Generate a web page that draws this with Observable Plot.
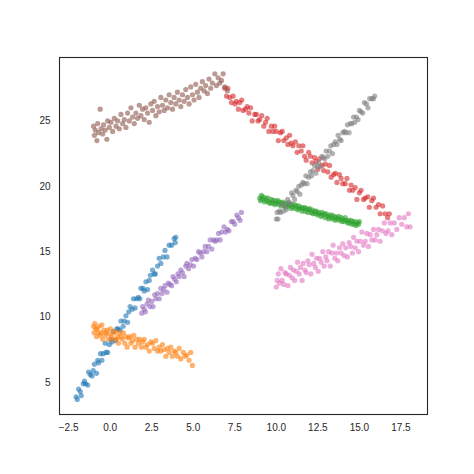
<!DOCTYPE html>
<html>
<head>
<meta charset="utf-8">
<script src="https://cdn.jsdelivr.net/npm/d3@7"></script>
<script src="https://cdn.jsdelivr.net/npm/@observablehq/plot@0.6"></script>
<style>
  html, body { margin: 0; padding: 0; background: #fff; }
  svg { font-family: "Liberation Sans", Arial, sans-serif; }
</style>
</head>
<body>
<div id="chart"></div>
<script>
const seriesNames = ["a", "b", "c", "d", "e", "f", "g", "h"];
const seriesColors = ["#1f77b4", "#ff7f0e", "#2ca02c", "#d62728", "#9467bd", "#8c564b", "#e377c2", "#7f7f7f"];
const xTicks = [-2.5, 0, 2.5, 5, 7.5, 10, 12.5, 15, 17.5];
const yTicks = [5, 10, 15, 20, 25];

const blue = [[-2.05,3.9],[-1.98,3.7],[-1.9,4.5],[-1.8,4.3],[-1.74,4.0],[-1.62,4.9],[-1.55,5.1],[-1.48,4.9],[-1.35,4.8],[-1.3,5.8],[-1.2,5.6],[-1.1,5.5],[-1.02,5.9],[-0.95,6.4],[-0.82,5.7],[-0.75,6.7],[-0.7,6.5],[-0.58,7.2],[-0.5,6.7],[-0.42,7.2],[-0.3,8.0],[-0.25,7.3],[-0.15,7.3],[-0.05,7.9],[0.05,8.3],[0.12,8.1],[0.2,8.9],[0.32,8.2],[0.4,9.1],[0.48,9.1],[0.6,9.0],[0.65,9.7],[0.78,9.3],[0.85,9.7],[0.95,10.1],[1.05,9.6],[1.12,10.4],[1.2,10.8],[1.32,10.6],[1.4,11.4],[1.5,10.7],[1.58,11.4],[1.7,11.5],[1.78,11.4],[1.85,12.2],[1.98,12.2],[2.05,12.0],[2.15,12.7],[2.25,12.1],[2.35,12.8],[2.42,13.2],[2.55,13.6],[2.65,13.3],[2.72,13.3],[2.85,13.9],[2.95,14.5],[3.05,14.1],[3.2,14.6],[3.3,15.1],[3.42,14.6],[3.55,15.5],[3.7,15.5],[3.85,16.0],[3.92,15.7],[3.95,16.1]];

const orange = [[-1.0,9.3],[-0.97,8.8],[-0.92,9.5],[-0.88,9.1],[-0.82,8.5],[-0.78,9.1],[-0.72,8.8],[-0.68,9.3],[-0.6,8.6],[-0.55,8.8],[-0.5,9.4],[-0.45,8.3],[-0.38,9.0],[-0.3,8.6],[-0.25,8.8],[-0.18,9.0],[-0.1,8.3],[-0.05,8.7],[0.02,9.1],[0.1,8.5],[0.15,8.3],[0.22,8.8],[0.3,8.9],[0.38,8.3],[0.45,8.5],[0.5,8.0],[0.58,8.8],[0.65,8.5],[0.72,8.3],[0.8,8.8],[0.88,8.0],[0.95,8.5],[1.02,7.7],[1.1,8.4],[1.18,8.5],[1.25,8.0],[1.35,8.2],[1.42,8.6],[1.5,7.7],[1.6,8.3],[1.7,8.0],[1.78,8.3],[1.88,7.7],[1.95,8.1],[2.05,8.3],[2.15,7.7],[2.25,7.9],[2.35,7.4],[2.45,8.1],[2.55,8.0],[2.65,7.6],[2.75,8.2],[2.85,7.4],[2.95,7.7],[3.05,7.4],[3.15,7.9],[3.25,7.5],[3.35,7.0],[3.45,7.6],[3.55,7.3],[3.65,7.7],[3.75,7.0],[3.85,7.4],[3.95,7.3],[4.05,7.0],[4.15,7.6],[4.25,6.8],[4.4,7.3],[4.5,7.0],[4.62,7.1],[4.75,6.7],[4.85,7.3],[4.95,6.3]];

const green = [[9.0,19.1],[9.05,18.9],[9.1,19.3],[9.15,19.0],[9.2,19.2],[9.3,18.8],[9.35,19.1],[9.4,18.9],[9.5,19.1],[9.55,18.8],[9.6,18.7],[9.7,19.0],[9.75,18.7],[9.8,18.9],[9.9,18.6],[9.95,18.9],[10.0,18.7],[10.1,18.9],[10.15,18.6],[10.2,18.8],[10.3,18.5],[10.35,18.7],[10.4,18.8],[10.5,18.5],[10.55,18.7],[10.6,18.4],[10.7,18.7],[10.75,18.5],[10.8,18.6],[10.9,18.3],[10.95,18.6],[11.0,18.4],[11.1,18.6],[11.15,18.3],[11.2,18.5],[11.3,18.2],[11.35,18.5],[11.4,18.3],[11.5,18.4],[11.55,18.1],[11.6,18.3],[11.7,18.4],[11.75,18.1],[11.8,18.3],[11.9,18.0],[11.95,18.2],[12.0,18.3],[12.1,18.0],[12.15,18.2],[12.2,17.9],[12.3,18.1],[12.35,17.9],[12.4,18.1],[12.5,17.8],[12.55,18.0],[12.6,17.9],[12.7,17.7],[12.75,18.0],[12.8,17.8],[12.9,17.9],[12.95,17.6],[13.0,17.9],[13.1,17.7],[13.15,17.5],[13.2,17.8],[13.3,17.6],[13.35,17.8],[13.4,17.5],[13.5,17.7],[13.55,17.4],[13.6,17.6],[13.7,17.5],[13.75,17.7],[13.8,17.4],[13.9,17.6],[13.95,17.3],[14.0,17.5],[14.1,17.3],[14.15,17.6],[14.2,17.4],[14.3,17.2],[14.35,17.4],[14.4,17.2],[14.5,17.4],[14.55,17.1],[14.6,17.3],[14.7,17.1],[14.75,17.3],[14.8,17.0],[14.9,17.2],[14.95,17.1],[15.0,17.3]];

const red = [[6.9,27.5],[7.0,26.9],[7.08,27.5],[7.2,26.8],[7.3,26.4],[7.4,26.9],[7.52,26.3],[7.6,26.5],[7.72,25.9],[7.8,26.4],[7.92,26.6],[8.0,25.8],[8.15,25.9],[8.25,26.1],[8.35,25.6],[8.45,26.0],[8.55,25.0],[8.7,25.5],[8.8,25.5],[8.9,25.0],[9.0,25.1],[9.12,25.4],[9.25,24.6],[9.35,24.9],[9.45,25.2],[9.55,24.2],[9.7,24.6],[9.8,24.2],[9.9,24.6],[10.0,24.2],[10.12,23.5],[10.25,24.1],[10.35,24.2],[10.45,23.5],[10.6,23.7],[10.7,23.2],[10.8,23.9],[10.9,23.3],[11.0,23.1],[11.15,23.4],[11.25,22.6],[11.35,23.1],[11.5,22.7],[11.6,23.1],[11.7,22.3],[11.8,22.0],[11.95,22.6],[12.05,22.3],[12.15,21.8],[12.3,22.2],[12.4,21.9],[12.5,21.3],[12.6,22.1],[12.75,21.6],[12.85,21.2],[12.95,21.7],[13.1,21.1],[13.2,21.6],[13.3,20.7],[13.45,20.9],[13.55,21.0],[13.65,20.3],[13.8,20.9],[13.9,20.6],[14.0,20.2],[14.15,20.2],[14.25,20.6],[14.4,19.7],[14.5,20.1],[14.6,19.7],[14.75,19.9],[14.85,19.0],[15.0,19.5],[15.1,19.7],[15.25,19.0],[15.35,19.1],[15.5,19.2],[15.6,18.4],[15.75,18.9],[15.85,19.1],[16.0,18.4],[16.15,18.6],[16.25,17.9],[16.4,18.5],[16.55,17.9],[16.7,17.6],[16.8,17.9]];

const purple = [[1.9,10.3],[1.95,10.8],[2.05,10.6],[2.12,10.4],[2.22,11.0],[2.3,11.3],[2.4,10.8],[2.5,11.2],[2.58,10.8],[2.68,11.7],[2.75,11.4],[2.85,11.8],[2.95,11.4],[3.05,12.2],[3.12,11.8],[3.22,12.1],[3.3,12.4],[3.42,11.9],[3.5,12.6],[3.6,12.5],[3.7,12.4],[3.78,13.1],[3.88,12.9],[3.98,12.7],[4.08,13.3],[4.15,13.1],[4.25,13.6],[4.35,13.4],[4.45,13.1],[4.55,13.9],[4.62,14.1],[4.72,13.7],[4.82,14.0],[4.92,14.4],[5.02,13.9],[5.12,14.5],[5.22,14.4],[5.32,15.0],[5.42,14.9],[5.52,14.6],[5.62,15.0],[5.72,15.4],[5.82,15.0],[5.92,15.4],[6.02,15.9],[6.12,15.2],[6.22,15.9],[6.32,15.8],[6.42,15.9],[6.52,16.4],[6.62,15.9],[6.72,16.5],[6.85,16.9],[6.95,16.5],[7.05,16.7],[7.15,16.6],[7.3,17.3],[7.4,17.3],[7.5,17.1],[7.62,17.8],[7.72,17.6],[7.82,17.4],[7.9,18.0]];

const brown = [[-1.0,24.6],[-0.95,23.9],[-0.9,24.3],[-0.8,23.5],[-0.75,24.8],[-0.7,24.1],[-0.6,25.9],[-0.55,24.4],[-0.45,24.0],[-0.4,24.7],[-0.3,24.3],[-0.2,23.6],[-0.15,25.0],[-0.05,24.5],[0.05,24.9],[0.15,24.2],[0.25,25.2],[0.35,24.6],[0.45,25.0],[0.55,24.4],[0.65,25.5],[0.75,24.8],[0.85,25.1],[0.95,24.5],[1.05,25.6],[1.15,25.0],[1.25,26.0],[1.35,25.3],[1.45,24.8],[1.55,25.6],[1.65,25.2],[1.75,26.2],[1.85,25.4],[1.95,25.9],[2.05,25.1],[2.15,26.0],[2.25,25.6],[2.35,24.9],[2.45,26.3],[2.55,25.8],[2.65,26.5],[2.75,25.4],[2.85,26.1],[2.95,25.7],[3.05,26.8],[3.15,26.2],[3.25,25.8],[3.35,26.6],[3.45,26.0],[3.55,27.0],[3.65,26.4],[3.75,25.9],[3.85,26.8],[3.95,26.3],[4.05,27.2],[4.15,26.6],[4.25,26.1],[4.35,27.0],[4.45,26.5],[4.55,27.4],[4.65,26.8],[4.75,26.3],[4.85,27.6],[4.95,27.0],[5.05,26.6],[5.15,27.8],[5.25,27.2],[5.35,26.8],[5.45,27.5],[5.55,28.0],[5.65,27.3],[5.75,27.7],[5.85,27.1],[5.95,28.2],[6.05,27.5],[6.15,27.9],[6.3,28.6],[6.4,27.7],[6.5,28.3],[6.6,27.9],[6.7,28.1],[6.8,28.6],[6.9,27.6],[7.05,27.3]];

const pink = [[10.0,12.3],[10.05,12.8],[10.12,13.3],[10.2,12.6],[10.28,13.7],[10.35,12.8],[10.45,12.5],[10.52,13.4],[10.6,13.3],[10.7,12.4],[10.78,13.2],[10.85,13.8],[10.95,13.0],[11.02,13.6],[11.1,12.8],[11.2,13.5],[11.28,14.2],[11.38,13.3],[11.45,13.8],[11.55,12.8],[11.62,14.1],[11.72,13.6],[11.8,13.4],[11.9,14.3],[11.98,14.0],[12.08,13.3],[12.15,14.8],[12.25,14.1],[12.35,13.8],[12.42,14.5],[12.52,13.5],[12.6,14.5],[12.7,14.2],[12.8,15.0],[12.88,13.9],[12.98,14.6],[13.05,14.3],[13.15,15.0],[13.25,13.9],[13.35,14.9],[13.42,15.5],[13.52,14.5],[13.62,14.9],[13.7,14.3],[13.8,15.3],[13.9,14.9],[14.0,15.6],[14.08,14.7],[14.18,15.3],[14.28,14.6],[14.38,15.7],[14.48,15.4],[14.58,14.9],[14.65,16.1],[14.75,15.3],[14.85,15.8],[14.95,15.0],[15.05,15.8],[15.15,16.5],[15.25,15.5],[15.35,15.8],[15.45,16.4],[15.55,15.4],[15.65,16.3],[15.75,15.9],[15.85,16.7],[15.95,15.9],[16.05,16.3],[16.15,16.7],[16.25,15.8],[16.38,16.6],[16.5,17.2],[16.6,16.4],[16.72,16.6],[16.85,17.2],[16.95,16.3],[17.1,17.2],[17.25,16.7],[17.4,17.6],[17.55,17.1],[17.7,17.6],[17.85,16.9],[17.95,17.9],[18.05,16.9]];

const gray = [[10.0,17.5],[10.05,18.0],[10.1,17.5],[10.18,18.1],[10.25,18.0],[10.35,18.6],[10.42,18.1],[10.5,18.5],[10.6,18.2],[10.68,19.0],[10.75,18.8],[10.85,18.7],[10.92,19.5],[11.0,19.3],[11.1,19.0],[11.18,19.7],[11.25,19.6],[11.35,20.0],[11.42,19.4],[11.5,20.1],[11.6,20.3],[11.68,20.2],[11.78,20.8],[11.85,20.2],[11.95,20.7],[12.05,21.1],[12.12,20.8],[12.2,21.2],[12.3,21.6],[12.38,21.0],[12.48,21.5],[12.55,21.8],[12.65,21.5],[12.75,22.3],[12.82,22.2],[12.92,22.1],[13.0,22.7],[13.1,22.3],[13.2,22.7],[13.28,23.1],[13.38,22.5],[13.45,23.2],[13.55,23.4],[13.65,23.2],[13.72,23.9],[13.82,23.6],[13.9,23.5],[14.0,24.1],[14.1,24.2],[14.18,24.1],[14.28,24.7],[14.38,24.1],[14.45,24.8],[14.55,24.8],[14.65,25.3],[14.72,24.9],[14.82,25.3],[14.92,25.1],[15.0,25.8],[15.1,25.7],[15.2,25.6],[15.3,26.4],[15.42,26.3],[15.52,26.0],[15.62,26.7],[15.75,26.7],[15.85,26.7],[15.92,26.9]];

const seriesPoints = [blue, orange, green, red, purple, brown, pink, gray];
const data = seriesPoints.flatMap((pts, i) => pts.map(([x, y]) => ({x, y, s: seriesNames[i]})));

const chart = Plot.plot({
  width: 474,
  height: 474,
  marginLeft: 59,
  marginRight: 47,
  marginTop: 57,
  marginBottom: 60,
  style: {fontSize: "10px", color: "#262626", background: "#fff"},
  x: {domain: [-3.05, 19.1], label: null},
  y: {domain: [2.55, 29.85], label: null},
  color: {domain: seriesNames, range: seriesColors},
  marks: [
    Plot.axisX({ticks: xTicks, tickSize: 0, tickPadding: 9, tickFormat: d3.format(".1f"), label: null}),
    Plot.axisY({ticks: yTicks, tickSize: 0, tickPadding: 9, label: null}),
    Plot.dot(data, {x: "x", y: "y", fill: "s", r: 2.6, fillOpacity: 0.6}),
    Plot.frame({stroke: "#262626", strokeWidth: 1.1})
  ]
});
document.getElementById("chart").append(chart);
</script>
</body>
</html>
